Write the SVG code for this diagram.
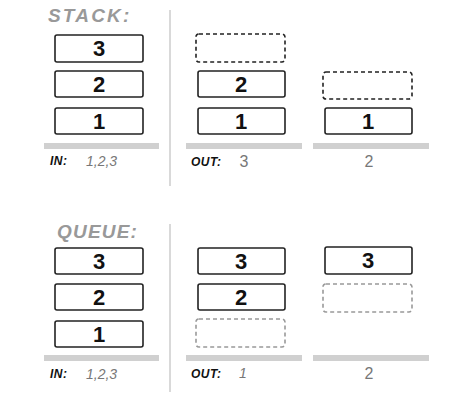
<svg xmlns="http://www.w3.org/2000/svg" width="474" height="417" viewBox="0 0 474 417">
<style>
.box{fill:#fff;stroke:#222;stroke-width:1.6}
.dash{fill:none;stroke:#222;stroke-width:1.6;stroke-dasharray:4 3}
.gdash{fill:none;stroke:#999;stroke-width:1.6;stroke-dasharray:4 3}
.bar{fill:#d0d0d0}
.div{stroke:#ccc;stroke-width:1.5}
.num{font-family:"Liberation Sans",Arial,sans-serif;font-weight:bold;font-size:22px;fill:#111;text-anchor:middle}
.title{font-family:"Liberation Sans",Arial,sans-serif;font-weight:bold;font-style:italic;font-size:19px;fill:#999;letter-spacing:2.2px}
.lbl{font-family:"Liberation Sans",Arial,sans-serif;font-weight:bold;font-style:italic;font-size:12px;fill:#111;letter-spacing:0.5px}
.val{font-family:"Liberation Sans",Arial,sans-serif;font-style:italic;font-size:14px;fill:#777}
.valc{font-family:"Liberation Sans",Arial,sans-serif;font-size:16px;fill:#777;text-anchor:middle}
</style>
<rect width="474" height="417" fill="#fff"/>
<g id="dividers">
<line class="div" x1="170" y1="10" x2="170" y2="186"/>
<line class="div" x1="170" y1="224" x2="170" y2="392"/>
</g>
<g id="stack-title"><text class="title" x="48" y="22">STACK:</text></g>
<g id="stack-in">
<rect class="box" x="55" y="35" width="88" height="27" rx="2"/><text class="num" x="99" y="56">3</text>
<rect class="box" x="55" y="71" width="88" height="26" rx="2"/><text class="num" x="99" y="92">2</text>
<rect class="box" x="55" y="108" width="88" height="26" rx="2"/><text class="num" x="99" y="129">1</text>
<rect class="bar" x="44" y="143" width="115" height="6"/>
<text class="lbl" x="50" y="165">IN:</text><text class="val" x="86" y="166">1,2,3</text>
</g>
<g id="stack-out1">
<rect class="dash" x="196" y="34" width="89" height="28" rx="3"/>
<rect class="box" x="198" y="71" width="87" height="26" rx="2"/><text class="num" x="241" y="92">2</text>
<rect class="box" x="198" y="108" width="87" height="26" rx="2"/><text class="num" x="241" y="129">1</text>
<rect class="bar" x="186" y="143" width="116" height="6"/>
<text class="lbl" x="191" y="166">OUT:</text><text class="valc" x="244" y="167">3</text>
</g>
<g id="stack-out2">
<rect class="dash" x="323" y="72" width="89" height="27" rx="3"/>
<rect class="box" x="325" y="108" width="87" height="26" rx="2"/><text class="num" x="368" y="129">1</text>
<rect class="bar" x="313" y="143" width="116" height="6"/>
<text class="valc" x="369" y="167">2</text>
</g>
<g id="queue-title"><text class="title" x="57" y="238" style="letter-spacing:1.2px">QUEUE:</text></g>
<g id="queue-in">
<rect class="box" x="55" y="248" width="88" height="26" rx="2"/><text class="num" x="99" y="269">3</text>
<rect class="box" x="55" y="284" width="88" height="26" rx="2"/><text class="num" x="99" y="305">2</text>
<rect class="box" x="55" y="321" width="88" height="26" rx="2"/><text class="num" x="99" y="342">1</text>
<rect class="bar" x="44" y="355" width="115" height="6"/>
<text class="lbl" x="50" y="378">IN:</text><text class="val" x="86" y="379">1,2,3</text>
</g>
<g id="queue-out1">
<rect class="box" x="198" y="248" width="87" height="26" rx="2"/><text class="num" x="241" y="269">3</text>
<rect class="box" x="198" y="284" width="87" height="26" rx="2"/><text class="num" x="241" y="305">2</text>
<rect class="gdash" x="196" y="319" width="89" height="28" rx="3"/>
<rect class="bar" x="186" y="355" width="116" height="6"/>
<text class="lbl" x="191" y="378">OUT:</text><text class="val" x="239" y="378">1</text>
</g>
<g id="queue-out2">
<rect class="box" x="325" y="247" width="87" height="27" rx="2"/><text class="num" x="368" y="268">3</text>
<rect class="gdash" x="323" y="284" width="89" height="28" rx="3"/>
<rect class="bar" x="313" y="355" width="116" height="6"/>
<text class="valc" x="369" y="379">2</text>
</g>
</svg>
